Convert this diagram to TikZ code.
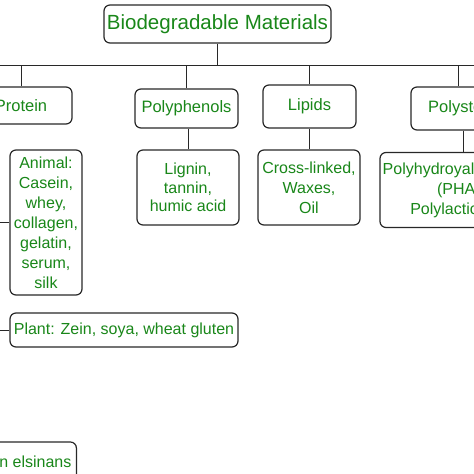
\documentclass[tikz,border=0pt]{standalone}
\usepackage{fontspec}
\setmainfont{Liberation Sans}
\definecolor{txt}{RGB}{25,135,25}
\definecolor{edge}{RGB}{40,40,40}
\begin{document}
\begin{tikzpicture}[x=1pt,y=-1pt,
  box/.style={draw=edge, line width=1.2pt, rounded corners=6pt, fill=white, text=txt, align=center, inner sep=0pt},
  lvlzero/.style={box, font=\fontsize{20.5}{24}\selectfont},
  lvlone/.style={box, font=\fontsize{16.5}{20}\selectfont},
  lvltwo/.style={box, font=\fontsize{16}{20}\selectfont},
  wire/.style={draw=edge, line width=1pt}]
\useasboundingbox (0,0) rectangle (474,474);
\clip (0,0) rectangle (474,474);
\fill[white] (0,0) rectangle (474,474);

% level 0
\node[lvlzero, minimum width=227pt, minimum height=38pt] (root) at (217.5,24) {Biodegradable Materials};

% level 1
\node[lvlone, minimum width=102pt, minimum height=37pt] (protein) at (21,105.5) {Protein};
\node[lvlone, minimum width=103pt, minimum height=39pt] (polyphenols) at (186.5,108.5) {Polyphenols};
\node[lvlone, minimum width=93pt, minimum height=43pt] (lipids) at (309.5,106.5) {Lipids};
\node[lvlone, minimum width=94pt, minimum height=43pt] (polyster) at (458,108.5) {Polyster};

% level 2
\node[lvltwo, minimum width=72pt, minimum height=145pt] (animal) at (46,222.5) {Animal:\\Casein,\\whey,\\collagen,\\gelatin,\\serum,\\silk};
\node[lvltwo, font=\fontsize{16}{18.5}\selectfont, minimum width=102pt, minimum height=75pt] (lignin) at (188,187.5) {Lignin,\\tannin,\\humic acid};
\node[lvltwo, minimum width=102pt, minimum height=75pt] (cross) at (309,187.5) {Cross-linked,\\Waxes,\\Oil};
\node[lvltwo, minimum width=162pt, minimum height=75pt] (pha) at (461,190) {Polyhydroyalkanoates\\(PHA),\\Polylactic acid};
\node[lvltwo, minimum width=228pt, minimum height=34pt] (plant) at (124,330) {Plant: Zein, soya, wheat gluten};
\node[lvltwo, anchor=east, inner xsep=5pt, minimum height=40pt] (elsin) at (77,462) {Pullulan elsinans};

% connectors
\coordinate (busL) at (-20,65);
\coordinate (busR) at (494,65);
\draw[wire] (busL) -- (busR);
\draw[wire] (root.south) -- (root.south |- busL);
\draw[wire] (protein.north |- busL) -- (protein.north);
\draw[wire] (polyphenols.north |- busL) -- (polyphenols.north);
\draw[wire] (lipids.north |- busL) -- (lipids.north);
\draw[wire] (polyster.north |- busL) -- (polyster.north);

\draw[wire] (lignin.north |- polyphenols.south) -- (lignin.north);
\draw[wire] (cross.north |- lipids.south) -- (cross.north);
\draw[wire] ([xshift=2pt]pha.north |- polyster.south) -- ([xshift=2pt]pha.north);

\coordinate (trunk) at (-12,124);
\draw[wire] (protein.south -| trunk) -- (trunk |- plant.west);
\draw[wire] (trunk |- animal.west) -- (animal.west);
\draw[wire] (trunk |- plant.west) -- (plant.west);
\end{tikzpicture}
\end{document}
